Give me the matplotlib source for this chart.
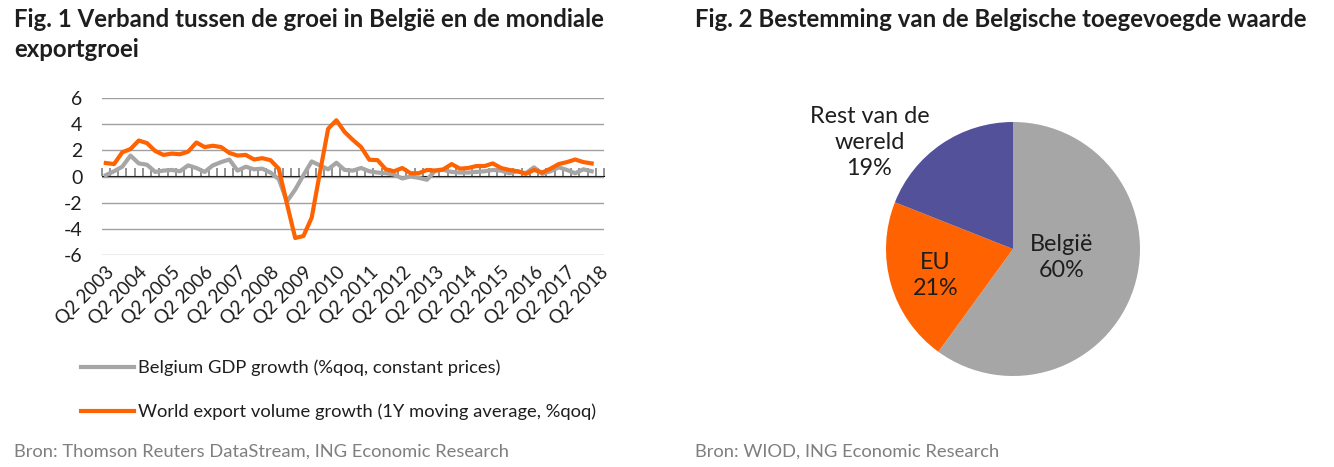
import matplotlib
matplotlib.use("Agg")
import matplotlib.pyplot as plt
import numpy as np

plt.rcParams['font.family'] = ['Lato', 'DejaVu Sans']

# ---- data ----
quarters = [f"Q{q} {y}" for y in range(2003, 2019) for q in (1, 2, 3, 4)][1:62]  # Q2 2003 .. Q2 2018
tick_labels = [f"Q2 {y}" for y in range(2003, 2019)]

gdp_growth = [0.1, 0.4, 0.75, 1.6, 1.0, 0.9, 0.35, 0.45, 0.5, 0.4,
              0.85, 0.65, 0.35, 0.85, 1.1, 1.3, 0.45, 0.75, 0.55, 0.6,
              0.3, -0.2, -1.9, -1.0, 0.1, 1.15, 0.85, 0.55, 1.05, 0.5,
              0.45, 0.65, 0.4, 0.3, 0.25, 0.15, -0.15, 0.0, -0.1, -0.25,
              0.45, 0.5, 0.35, 0.3, 0.3, 0.35, 0.4, 0.5, 0.45, 0.25,
              0.4, 0.25, 0.7, 0.2, 0.4, 0.7, 0.5, 0.25, 0.55, 0.4]
export_growth = [1.03, 0.95, 1.85, 2.1, 2.75, 2.55, 1.95, 1.65, 1.75, 1.7,
                 1.9, 2.6, 2.25, 2.35, 2.25, 1.8, 1.6, 1.65, 1.3, 1.4,
                 1.25, 0.6, -2.1, -4.7, -4.55, -3.15, 0.3, 3.65, 4.3, 3.4,
                 2.8, 2.25, 1.28, 1.25, 0.55, 0.4, 0.65, 0.25, 0.25, 0.5,
                 0.45, 0.55, 0.95, 0.6, 0.65, 0.8, 0.8, 1.0, 0.65, 0.5,
                 0.4, 0.2, 0.5, 0.3, 0.6, 0.95, 1.1, 1.3, 1.1, 1.0]

pie_labels = ["België", "EU", "Rest van de\nwereld"]
pie_values = [60, 21, 19]

GRAY = '#A6A6A6'
ORANGE = '#FF6200'
PURPLE = '#525199'
GRID = '#A0A0A0'
TXT = '#1E1E1E'

fig = plt.figure(figsize=(13.34, 4.67), dpi=100)
W, H = 1334, 467

def fx(px):
    return px / W

def fy(py):
    return 1 - py / H

# ---- line chart ----
ax = fig.add_axes([fx(101.7), fy(255), fx(604) - fx(101.7), fy(98) - fy(255)])
n_cat = len(quarters)
x = np.arange(len(gdp_growth))
l1, = ax.plot(x, gdp_growth, color=GRAY, lw=3.0, solid_joinstyle='round')
l2, = ax.plot(x, export_growth, color=ORANGE, lw=3.0, solid_joinstyle='round')
ax.set_xlim(-0.5, n_cat - 0.5)
ax.set_ylim(-6, 6)
ax.set_yticks(np.arange(-6, 7, 2))
ax.set_yticklabels([str(v) for v in range(-6, 7, 2)], fontsize=14, color=TXT)
ax.yaxis.grid(True, color=GRID, lw=1.0)
ax.set_axisbelow(True)
for s in ax.spines.values():
    s.set_visible(False)
ax.tick_params(axis='y', length=0, pad=14)
ax.set_xticks([quarters.index(t) for t in tick_labels])
ax.set_xticklabels(tick_labels, rotation=45, ha='right', va='top',
                   rotation_mode='anchor', fontsize=13.5, color=TXT)
ax.tick_params(axis='x', length=0, pad=6)

# category axis at zero
sec = ax.secondary_xaxis(0.5)
sec.set_xticks(np.arange(-0.5, n_cat, 1.0))
sec.set_xticklabels([])
sec.tick_params(axis='x', direction='out', length=6, width=1.2, color='#808080')
sec.spines['bottom'].set_color('#808080')
sec.spines['bottom'].set_linewidth(1.2)

# legend
fig.legend([l1, l2],
           ["Belgium GDP growth (%qoq, constant prices)",
            "World export volume growth (1Y moving average, %qoq)"],
           loc='upper left', bbox_to_anchor=(fx(64), fy(343)), frameon=False,
           fontsize=13.2, handlelength=2.9, handletextpad=0.22, labelspacing=1.5,
           labelcolor=TXT)

# titles and sources
fig.text(fx(14), fy(8), "Fig. 1 Verband tussen de groei in België en de mondiale\nexportgroei",
         fontsize=17.3, fontweight='bold', color=TXT, ha='left', va='top', linespacing=1.38)
fig.text(fx(695), fy(8), "Fig. 2 Bestemming van de Belgische toegevoegde waarde",
         fontsize=17.3, fontweight='bold', color=TXT, ha='left', va='top')
fig.text(fx(14), fy(452), "Bron: Thomson Reuters DataStream, ING Economic Research",
         fontsize=13.2, color='#7F7F7F', ha='left', va='center')
fig.text(fx(695), fy(452), "Bron: WIOD, ING Economic Research",
         fontsize=13.2, color='#7F7F7F', ha='left', va='center')

# ---- pie chart ----
r = 127
axp = fig.add_axes([fx(1013 - r), fy(249 + r), fx(2 * r), 2 * r / H])
wedges, _ = axp.pie(pie_values, colors=[GRAY, ORANGE, PURPLE], startangle=90,
                    counterclock=False, wedgeprops=dict(linewidth=0))
axp.set_xlim(-1, 1)
axp.set_ylim(-1, 1)
label_pos = [(0.38, -0.07), (-0.61, -0.21), (-1.13, 0.84)]
for lab, val, (px_, py_) in zip(pie_labels, pie_values, label_pos):
    axp.text(px_, py_, f"{lab}\n{val}%", ha='center', va='center', fontsize=16.8,
             color=TXT, linespacing=1.3)

fig.savefig("out.png", dpi=100)
